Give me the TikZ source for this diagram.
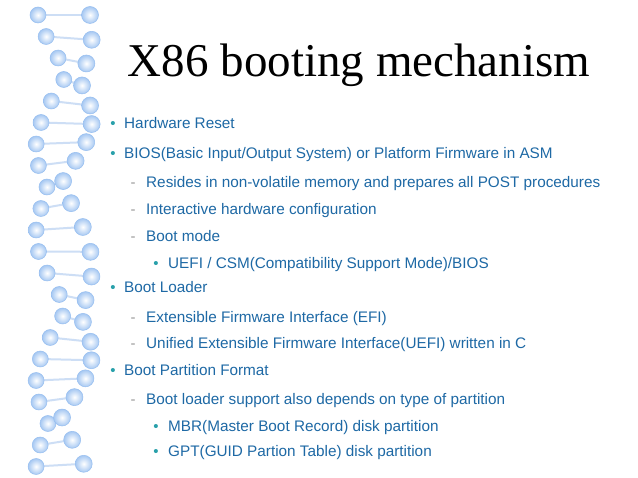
\documentclass[tikz,border=0pt]{standalone}
\usepackage{fontspec}
\setmainfont{Liberation Serif}
\newfontfamily\bodyfont{Liberation Sans}
\definecolor{txt}{RGB}{30,105,165}
\definecolor{bul}{RGB}{40,160,170}
\definecolor{rod}{RGB}{205,222,245}
\definecolor{ballc}{RGB}{150,190,240}
\begin{document}
\begin{tikzpicture}[x=1pt,y=-1pt,
  l1/.style={anchor=base west,text=txt,font=\bodyfont\fontsize{15.3}{18}\selectfont,inner sep=0},
  bl/.style={anchor=base,text=bul,font=\bodyfont\fontsize{15}{18}\selectfont,inner sep=0},
  ds/.style={anchor=base,text=black!40,font=\bodyfont\fontsize{15}{18}\selectfont,inner sep=0},
  ballst/.style={inner color=white,outer color=ballc!85,draw=ballc,line width=0.5pt}]
\useasboundingbox (0,0) rectangle (638,478);
\fill[white] (0,0) rectangle (638,478);
% helix decoration
\foreach \k in {0,...,21}{
  \pgfmathsetmacro{\yy}{15+21.5*\k}
  \pgfmathsetmacro{\cx}{64+9*sin(\k*33)}
  \pgfmathsetmacro{\hw}{20*cos(\k*33)}
  \pgfmathsetmacro{\xa}{\cx-abs(\hw)-6}
  \pgfmathsetmacro{\xb}{\cx+abs(\hw)+6}
  \pgfmathsetmacro{\yb}{\yy+6*sin(\k*33)}
  \draw[rod,line width=2pt] (\xa,\yy) -- (\xb,\yb);
  \shade[ballst] (\xa,\yy) circle (8);
  \shade[ballst] (\xb,\yb) circle (8.5);
}
\node[font=\fontsize{47}{52}\selectfont,anchor=base] (title) at (359,77) {X86 booting mechanism};
\node[bl] (b1) at (113,129) {•}; \node[l1] (t1) at (124,129) {Hardware Reset};
\node[bl] (b2) at (113,159) {•}; \node[l1] (t2) at (124,159) {BIOS(Basic Input/Output System) or Platform Firmware in ASM};
\node[ds] (d1) at (133,188) {-}; \node[l1] (t3) at (146,188) {Resides in non-volatile memory and prepares all POST procedures};
\node[ds] (d2) at (133,215) {-}; \node[l1] (t4) at (146,215) {Interactive hardware configuration};
\node[ds] (d3) at (133,242) {-}; \node[l1] (t5) at (146,242) {Boot mode};
\node[bl] (b3) at (156,269) {•}; \node[l1] (t6) at (168,269) {UEFI / CSM(Compatibility Support Mode)/BIOS};
\node[bl] (b4) at (113,293) {•}; \node[l1] (t7) at (124,293) {Boot Loader};
\node[ds] (d4) at (133,323) {-}; \node[l1] (t8) at (146,323) {Extensible Firmware Interface (EFI)};
\node[ds] (d5) at (133,349) {-}; \node[l1] (t9) at (146,349) {Unified Extensible Firmware Interface(UEFI) written in C};
\node[bl] (b5) at (113,376) {•}; \node[l1] (t10) at (124,376) {Boot Partition Format};
\node[ds] (d6) at (133,405) {-}; \node[l1] (t11) at (146,405) {Boot loader support also depends on type of partition};
\node[bl] (b6) at (156,432) {•}; \node[l1] (t12) at (168,432) {MBR(Master Boot Record) disk partition};
\node[bl] (b7) at (156,457) {•}; \node[l1] (t13) at (168,457) {GPT(GUID Partion Table) disk partition};
\end{tikzpicture}
\end{document}
